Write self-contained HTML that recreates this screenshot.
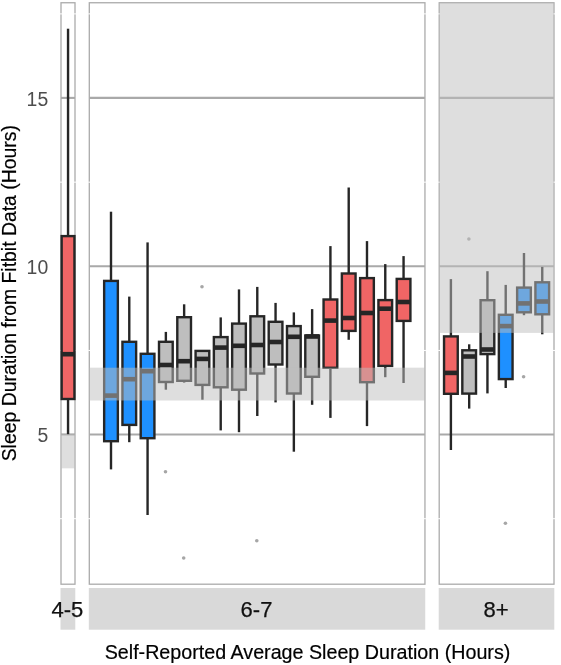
<!DOCTYPE html>
<html><head><meta charset="utf-8"><title>Sleep Duration</title>
<style>
html,body{margin:0;padding:0;background:#fff;}
body{width:561px;height:665px;overflow:hidden;}
svg{display:block;}
text{font-family:"Liberation Sans",Arial,Helvetica,sans-serif;font-size:19.4px;}
.tick{fill:#4D4D4D;text-anchor:end;}
.strip{fill:#111;stroke:#111;stroke-width:0.25px;text-anchor:middle;font-size:22px;}
.title{fill:#000;stroke:#000;stroke-width:0.2px;text-anchor:middle;}
</style></head><body>
<svg width="561" height="665" viewBox="0 0 561 665">
<rect width="561" height="665" fill="#fff"/>
<g stroke="#A9A9A9" stroke-width="2.1" fill="none">
<line x1="61.0" y1="97.9" x2="75.0" y2="97.9"/>
<line x1="61.0" y1="266.3" x2="75.0" y2="266.3"/>
<line x1="61.0" y1="434.45" x2="75.0" y2="434.45"/>
<line x1="89.3" y1="97.9" x2="424.95" y2="97.9"/>
<line x1="89.3" y1="266.3" x2="424.95" y2="266.3"/>
<line x1="89.3" y1="434.45" x2="424.95" y2="434.45"/>
<line x1="439.2" y1="97.9" x2="554.0" y2="97.9"/>
<line x1="439.2" y1="266.3" x2="554.0" y2="266.3"/>
<line x1="439.2" y1="434.45" x2="554.0" y2="434.45"/>
</g>
<g stroke="#ABABAB" stroke-width="1.3" fill="none">
<rect x="61.0" y="2.75" width="14.0" height="581.45"/>
<rect x="89.3" y="2.75" width="335.65" height="581.45"/>
<rect x="439.2" y="2.75" width="114.80000000000001" height="581.45"/>
</g>
<g stroke="#fff" stroke-width="1">
<line x1="60.0" y1="13.89" x2="62.0" y2="13.89"/><line x1="74.0" y1="13.89" x2="76.0" y2="13.89"/>
<line x1="60.0" y1="182.16" x2="62.0" y2="182.16"/><line x1="74.0" y1="182.16" x2="76.0" y2="182.16"/>
<line x1="60.0" y1="350.44" x2="62.0" y2="350.44"/><line x1="74.0" y1="350.44" x2="76.0" y2="350.44"/>
<line x1="60.0" y1="518.71" x2="62.0" y2="518.71"/><line x1="74.0" y1="518.71" x2="76.0" y2="518.71"/>
<line x1="88.3" y1="13.89" x2="90.3" y2="13.89"/><line x1="423.95" y1="13.89" x2="425.95" y2="13.89"/>
<line x1="88.3" y1="182.16" x2="90.3" y2="182.16"/><line x1="423.95" y1="182.16" x2="425.95" y2="182.16"/>
<line x1="88.3" y1="350.44" x2="90.3" y2="350.44"/><line x1="423.95" y1="350.44" x2="425.95" y2="350.44"/>
<line x1="88.3" y1="518.71" x2="90.3" y2="518.71"/><line x1="423.95" y1="518.71" x2="425.95" y2="518.71"/>
<line x1="438.2" y1="13.89" x2="440.2" y2="13.89"/><line x1="553.0" y1="13.89" x2="555.0" y2="13.89"/>
<line x1="438.2" y1="182.16" x2="440.2" y2="182.16"/><line x1="553.0" y1="182.16" x2="555.0" y2="182.16"/>
<line x1="438.2" y1="350.44" x2="440.2" y2="350.44"/><line x1="553.0" y1="350.44" x2="555.0" y2="350.44"/>
<line x1="438.2" y1="518.71" x2="440.2" y2="518.71"/><line x1="553.0" y1="518.71" x2="555.0" y2="518.71"/>
</g>
<g fill="#A6A6A6">
<circle cx="202.0" cy="286.8" r="1.8"/>
<circle cx="165.5" cy="471.7" r="1.8"/>
<circle cx="183.7" cy="558.0" r="1.8"/>
<circle cx="256.8" cy="540.8" r="1.8"/>
<circle cx="468.9" cy="239.0" r="1.8"/>
<circle cx="523.6" cy="376.8" r="1.8"/>
<circle cx="505.4" cy="523.2" r="1.8"/>
</g>
<g stroke="#262626" stroke-width="2.4" stroke-linejoin="miter">
<line x1="68.05" y1="28.70" x2="68.05" y2="236.10"/>
<line x1="68.05" y1="399.00" x2="68.05" y2="434.20"/>
<rect x="61.65" y="236.10" width="12.80" height="162.90" fill="#F06565"/>
<line x1="61.65" y1="354.20" x2="74.45" y2="354.20" stroke-width="4.6"/>
<line x1="111.00" y1="211.70" x2="111.00" y2="280.90"/>
<line x1="111.00" y1="441.20" x2="111.00" y2="469.40"/>
<rect x="104.15" y="280.90" width="13.70" height="160.30" fill="#1E90FF"/>
<line x1="104.15" y1="395.60" x2="117.85" y2="395.60" stroke-width="4.6"/>
<line x1="129.28" y1="296.60" x2="129.28" y2="341.80"/>
<line x1="129.28" y1="424.90" x2="129.28" y2="442.20"/>
<rect x="122.44" y="341.80" width="13.70" height="83.10" fill="#1E90FF"/>
<line x1="122.44" y1="379.20" x2="136.13" y2="379.20" stroke-width="4.6"/>
<line x1="147.57" y1="242.40" x2="147.57" y2="353.80"/>
<line x1="147.57" y1="438.20" x2="147.57" y2="515.00"/>
<rect x="140.72" y="353.80" width="13.70" height="84.40" fill="#1E90FF"/>
<line x1="140.72" y1="371.20" x2="154.42" y2="371.20" stroke-width="4.6"/>
<line x1="165.86" y1="331.90" x2="165.86" y2="341.80"/>
<line x1="165.86" y1="382.00" x2="165.86" y2="389.70"/>
<rect x="159.01" y="341.80" width="13.70" height="40.20" fill="#BEBEBE"/>
<line x1="159.01" y1="365.00" x2="172.71" y2="365.00" stroke-width="4.6"/>
<line x1="184.14" y1="304.30" x2="184.14" y2="317.20"/>
<line x1="184.14" y1="380.80" x2="184.14" y2="382.60"/>
<rect x="177.29" y="317.20" width="13.70" height="63.60" fill="#BEBEBE"/>
<line x1="177.29" y1="361.20" x2="190.99" y2="361.20" stroke-width="4.6"/>
<line x1="202.43" y1="351.00" x2="202.43" y2="350.90"/>
<line x1="202.43" y1="384.90" x2="202.43" y2="399.70"/>
<rect x="195.58" y="350.90" width="13.70" height="34.00" fill="#BEBEBE"/>
<line x1="195.58" y1="358.90" x2="209.28" y2="358.90" stroke-width="4.6"/>
<line x1="220.71" y1="317.40" x2="220.71" y2="337.10"/>
<line x1="220.71" y1="387.30" x2="220.71" y2="430.40"/>
<rect x="213.86" y="337.10" width="13.70" height="50.20" fill="#BEBEBE"/>
<line x1="213.86" y1="347.60" x2="227.56" y2="347.60" stroke-width="4.6"/>
<line x1="239.00" y1="289.40" x2="239.00" y2="323.60"/>
<line x1="239.00" y1="389.70" x2="239.00" y2="432.20"/>
<rect x="232.15" y="323.60" width="13.70" height="66.10" fill="#BEBEBE"/>
<line x1="232.15" y1="345.80" x2="245.84" y2="345.80" stroke-width="4.6"/>
<line x1="257.28" y1="286.90" x2="257.28" y2="316.30"/>
<line x1="257.28" y1="373.50" x2="257.28" y2="416.00"/>
<rect x="250.43" y="316.30" width="13.70" height="57.20" fill="#BEBEBE"/>
<line x1="250.43" y1="345.00" x2="264.13" y2="345.00" stroke-width="4.6"/>
<line x1="275.56" y1="302.90" x2="275.56" y2="321.80"/>
<line x1="275.56" y1="364.50" x2="275.56" y2="402.40"/>
<rect x="268.71" y="321.80" width="13.70" height="42.70" fill="#BEBEBE"/>
<line x1="268.71" y1="342.00" x2="282.42" y2="342.00" stroke-width="4.6"/>
<line x1="293.85" y1="312.40" x2="293.85" y2="326.10"/>
<line x1="293.85" y1="393.50" x2="293.85" y2="451.70"/>
<rect x="287.00" y="326.10" width="13.70" height="67.40" fill="#BEBEBE"/>
<line x1="287.00" y1="336.80" x2="300.70" y2="336.80" stroke-width="4.6"/>
<line x1="312.13" y1="309.10" x2="312.13" y2="335.50"/>
<line x1="312.13" y1="376.80" x2="312.13" y2="404.80"/>
<rect x="305.28" y="335.50" width="13.70" height="41.30" fill="#BEBEBE"/>
<line x1="305.28" y1="336.50" x2="318.99" y2="336.50" stroke-width="4.6"/>
<line x1="330.42" y1="246.10" x2="330.42" y2="299.50"/>
<line x1="330.42" y1="367.80" x2="330.42" y2="417.90"/>
<rect x="323.57" y="299.50" width="13.70" height="68.30" fill="#F06565"/>
<line x1="323.57" y1="320.60" x2="337.27" y2="320.60" stroke-width="4.6"/>
<line x1="348.71" y1="187.50" x2="348.71" y2="273.50"/>
<line x1="348.71" y1="330.90" x2="348.71" y2="339.80"/>
<rect x="341.86" y="273.50" width="13.70" height="57.40" fill="#F06565"/>
<line x1="341.86" y1="318.00" x2="355.56" y2="318.00" stroke-width="4.6"/>
<line x1="366.99" y1="241.10" x2="366.99" y2="278.10"/>
<line x1="366.99" y1="382.20" x2="366.99" y2="426.10"/>
<rect x="360.14" y="278.10" width="13.70" height="104.10" fill="#F06565"/>
<line x1="360.14" y1="313.00" x2="373.84" y2="313.00" stroke-width="4.6"/>
<line x1="385.27" y1="264.10" x2="385.27" y2="300.10"/>
<line x1="385.27" y1="365.90" x2="385.27" y2="377.20"/>
<rect x="378.42" y="300.10" width="13.70" height="65.80" fill="#F06565"/>
<line x1="378.42" y1="308.70" x2="392.12" y2="308.70" stroke-width="4.6"/>
<line x1="403.56" y1="256.10" x2="403.56" y2="278.90"/>
<line x1="403.56" y1="320.90" x2="403.56" y2="383.00"/>
<rect x="396.71" y="278.90" width="13.70" height="42.00" fill="#F06565"/>
<line x1="396.71" y1="302.00" x2="410.41" y2="302.00" stroke-width="4.6"/>
<line x1="450.90" y1="279.10" x2="450.90" y2="336.40"/>
<line x1="450.90" y1="393.80" x2="450.90" y2="450.00"/>
<rect x="444.05" y="336.40" width="13.70" height="57.40" fill="#F06565"/>
<line x1="444.05" y1="372.90" x2="457.75" y2="372.90" stroke-width="4.6"/>
<line x1="469.17" y1="344.30" x2="469.17" y2="350.30"/>
<line x1="469.17" y1="393.60" x2="469.17" y2="408.60"/>
<rect x="462.32" y="350.30" width="13.70" height="43.30" fill="#BEBEBE"/>
<line x1="462.32" y1="356.50" x2="476.02" y2="356.50" stroke-width="4.6"/>
<line x1="487.44" y1="271.20" x2="487.44" y2="300.20"/>
<line x1="487.44" y1="354.10" x2="487.44" y2="393.40"/>
<rect x="480.59" y="300.20" width="13.70" height="53.90" fill="#BEBEBE"/>
<line x1="480.59" y1="349.50" x2="494.29" y2="349.50" stroke-width="4.6"/>
<line x1="505.71" y1="284.90" x2="505.71" y2="314.80"/>
<line x1="505.71" y1="379.10" x2="505.71" y2="388.00"/>
<rect x="498.86" y="314.80" width="13.70" height="64.30" fill="#1E90FF"/>
<line x1="498.86" y1="326.10" x2="512.56" y2="326.10" stroke-width="4.6"/>
<line x1="523.98" y1="253.00" x2="523.98" y2="287.60"/>
<line x1="523.98" y1="312.30" x2="523.98" y2="315.20"/>
<rect x="517.13" y="287.60" width="13.70" height="24.70" fill="#1E90FF"/>
<line x1="517.13" y1="303.40" x2="530.83" y2="303.40" stroke-width="4.6"/>
<line x1="542.25" y1="266.90" x2="542.25" y2="282.30"/>
<line x1="542.25" y1="314.30" x2="542.25" y2="334.30"/>
<rect x="535.40" y="282.30" width="13.70" height="32.00" fill="#1E90FF"/>
<line x1="535.40" y1="301.50" x2="549.10" y2="301.50" stroke-width="4.6"/>
</g>
<g fill="#BEBEBE" fill-opacity="0.5">
<rect x="61.0" y="434.6" width="14.0" height="33.69999999999999"/>
<rect x="89.3" y="367.7" width="335.65" height="32.80000000000001"/>
<rect x="439.2" y="2.75" width="114.80000000000001" height="330.15"/>
</g>
<g fill="#D9D9D9">
<rect x="60.5" y="588" width="14.8" height="41.7"/>
<rect x="88.8" y="588" width="336.45" height="41.7"/>
<rect x="438.7" y="588" width="115.60000000000001" height="41.7"/>
</g>
<text class="tick" x="48.2" y="105.5">15</text>
<text class="tick" x="48.2" y="273.9">10</text>
<text class="tick" x="48.2" y="442.1">5</text>
<text class="strip" x="67.4" y="617.2">4-5</text>
<text class="strip" x="256.5" y="617.2">6-7</text>
<text class="strip" x="496.0" y="617.2">8+</text>
<text class="title" x="307.5" y="659" style="font-size:19.7px">Self-Reported Average Sleep Duration (Hours)</text>
<text class="title" transform="translate(16.0,293.2) rotate(-90)">Sleep Duration from Fitbit Data (Hours)</text>
</svg></body></html>
